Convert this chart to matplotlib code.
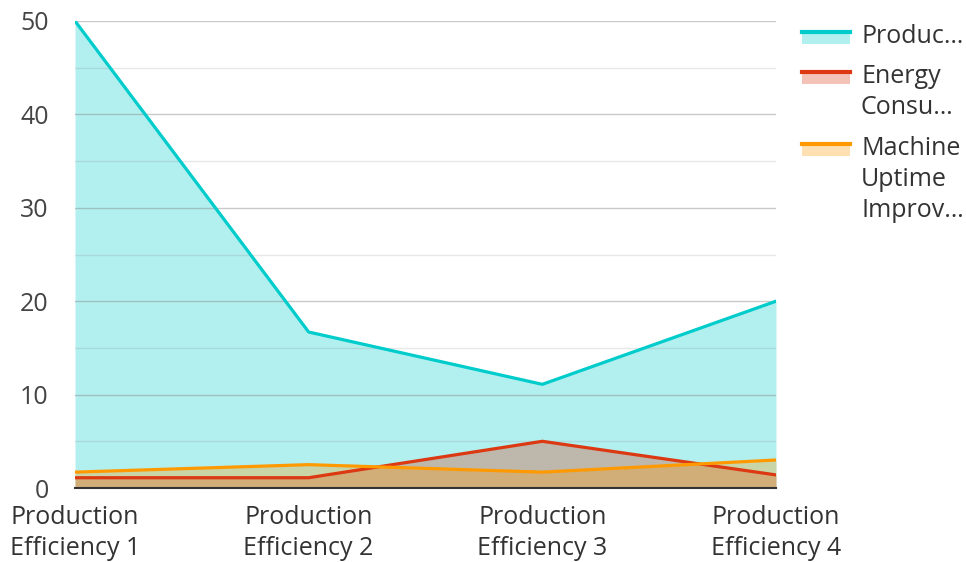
import numpy as np
import matplotlib.pyplot as plt
from matplotlib.patches import Rectangle
from matplotlib.lines import Line2D

plt.rcParams['font.family'] = ['Open Sans', 'DejaVu Sans']

categories = ['Production\nEfficiency 1', 'Production\nEfficiency 2',
              'Production\nEfficiency 3', 'Production\nEfficiency 4']
production = [50, 16.7, 11.1, 20]
energy = [1.1, 1.1, 5.0, 1.4]
uptime = [1.7, 2.5, 1.7, 3.0]

series_names = ['Produc…', 'Energy\nConsu…', 'Machine\nUptime\nImprov…']
colors = ['#00CCCC', '#DC3912', '#FF9900']

W, H = 966, 562
fig = plt.figure(figsize=(W / 100, H / 100), dpi=100)
ax = fig.add_axes([75 / W, 1 - 488 / H, 701 / W, 467 / H])

x = np.arange(len(categories))
for vals, c in zip([production, energy, uptime], colors):
    ax.fill_between(x, 0, vals, color=c, alpha=0.3, lw=0, zorder=1)
    ax.plot(x, vals, color=c, lw=2.3, zorder=3)

ax.set_xlim(0, 3)
ax.set_ylim(0, 50)
ax.set_yticks([0, 10, 20, 30, 40, 50])
ax.set_yticks([5, 15, 25, 35, 45], minor=True)
ax.grid(axis='y', which='major', color='#888888', alpha=0.45, lw=1, zorder=2)
ax.grid(axis='y', which='minor', color='#888888', alpha=0.2, lw=1, zorder=2)
ax.set_axisbelow(False)

ax.set_xticks(x)
ax.set_xticklabels(categories, linespacing=1.32)
ax.tick_params(axis='both', which='both', length=0, labelsize=18, colors='#333333')
ax.tick_params(axis='y', pad=19, labelcolor='#444444')
ax.tick_params(axis='x', pad=12)

for s in ['left', 'right', 'top']:
    ax.spines[s].set_visible(False)
ax.spines['bottom'].set_color('#333333')
ax.spines['bottom'].set_linewidth(1.5)
ax.spines['bottom'].set_zorder(4)

# legend drawn by hand so the key sits next to the first text line
first_line_y = [34, 74, 146]
for name, c, yc in zip(series_names, colors, first_line_y):
    fig.patches.append(Rectangle((802 / W, 1 - (yc + 10) / H), 48 / W, 12 / H,
                                 facecolor=c, alpha=0.3, edgecolor='none',
                                 transform=fig.transFigure))
    fig.lines.append(Line2D([802 / W, 850 / W], [1 - (yc - 2) / H] * 2, color=c, lw=3,
                            transform=fig.transFigure))
    fig.text(861 / W, 1 - (yc - 10) / H, name, va='top', ha='left', fontsize=18,
             color='#333333', linespacing=1.32)

fig.savefig('out.png', dpi=100)
